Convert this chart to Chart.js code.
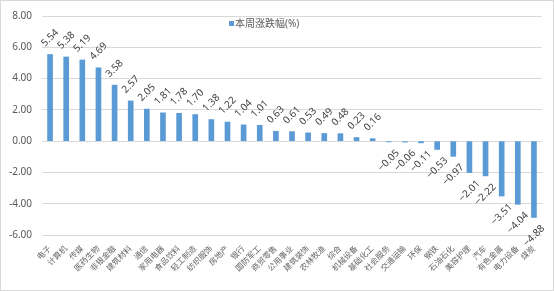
<!DOCTYPE html>
<html>
<head>
<meta charset="utf-8">
<script src="https://cdn.jsdelivr.net/npm/chart.js@4/dist/chart.umd.min.js"></script>
<style>
  html, body { margin: 0; padding: 0; background: #fff; }
  #wrap { position: relative; width: 554px; height: 291px; }
</style>
</head>
<body>
<div id="wrap"><canvas id="chart" width="554" height="291"></canvas></div>
<script>
const industries = ['电子', '计算机', '传媒', '医药生物', '非银金融', '建筑材料', '通信', '家用电器', '食品饮料', '轻工制造',
  '纺织服饰', '房地产', '银行', '国防军工', '商贸零售', '公用事业', '建筑装饰', '农林牧渔', '综合', '机械设备',
  '基础化工', '社会服务', '交通运输', '环保', '钢铁', '石油石化', '美容护理', '汽车', '有色金属', '电力设备', '煤炭'];
const weeklyChange = [5.54, 5.38, 5.19, 4.69, 3.58, 2.57, 2.05, 1.81, 1.78, 1.70,
  1.38, 1.22, 1.04, 1.01, 0.63, 0.61, 0.53, 0.49, 0.48, 0.23,
  0.16, -0.05, -0.06, -0.11, -0.53, -0.97, -2.01, -2.22, -3.51, -4.04, -4.88];
const seriesName = '本周涨跌幅(%)';
const yMin = -6, yMax = 8, yStep = 2;

const FONT = "'Noto Sans', 'Noto Sans CJK SC', sans-serif";
const BLUE = '#5b9bd5';

// 边框 + 图例 + 数据标签
const decor = {
  id: 'decor',
  beforeDraw(chart) {
    const ctx = chart.ctx;
    ctx.save();
    ctx.strokeStyle = '#d9d9d9';
    ctx.lineWidth = 1;
    ctx.strokeRect(0.5, 0.5, chart.width - 1, chart.height - 1);
    ctx.restore();
  },
  afterDatasetsDraw(chart) {
    const ctx = chart.ctx;
    const meta = chart.getDatasetMeta(0);
    ctx.save();
    ctx.font = '10px ' + FONT;
    ctx.fillStyle = '#404040';
    ctx.textAlign = 'center';
    ctx.textBaseline = 'middle';
    meta.data.forEach((bar, i) => {
      const v = weeklyChange[i];
      const txt = (v < 0 ? '\u2212' : '') + Math.abs(v).toFixed(2);
      const w = ctx.measureText(txt).width;
      const half = (w + 7) * 0.707 / 2;
      const cy = v >= 0 ? bar.y - 7 - half : bar.y + 7 + half;
      ctx.save();
      ctx.translate(bar.x, cy);
      ctx.rotate(-Math.PI / 4);
      ctx.fillText(txt, 0, 0);
      ctx.restore();
    });
    // 图例
    ctx.fillStyle = BLUE;
    ctx.fillRect(229, 21, 5, 5);
    ctx.fillStyle = '#595959';
    ctx.textAlign = 'left';
    ctx.fillText(seriesName, 235, 24);
    ctx.restore();
  }
};

new Chart(document.getElementById('chart'), {
  type: 'bar',
  data: {
    labels: industries,
    datasets: [{
      label: seriesName,
      data: weeklyChange,
      backgroundColor: BLUE,
      barThickness: 5
    }]
  },
  options: {
    responsive: false,
    animation: false,
    layout: { padding: { left: 0, right: 12, top: 12, bottom: 0 } },
    plugins: { legend: { display: false }, tooltip: { enabled: false } },
    scales: {
      x: {
        grid: { display: false },
        border: { display: false },
        afterFit: s => { s.height = 56; },
        ticks: {
          autoSkip: false,
          minRotation: 45,
          maxRotation: 45,
          padding: 1,
          color: '#666666',
          font: { size: 8, family: FONT }
        }
      },
      y: {
        min: yMin,
        max: yMax,
        afterFit: s => { s.width = 42; },
        border: { display: false },
        grid: { color: '#d9d9d9', drawTicks: false },
        ticks: {
          stepSize: yStep,
          padding: 10,
          color: '#595959',
          font: { size: 10, family: FONT },
          callback: v => v.toFixed(2)
        }
      }
    }
  },
  plugins: [decor]
});
</script>
</body>
</html>
